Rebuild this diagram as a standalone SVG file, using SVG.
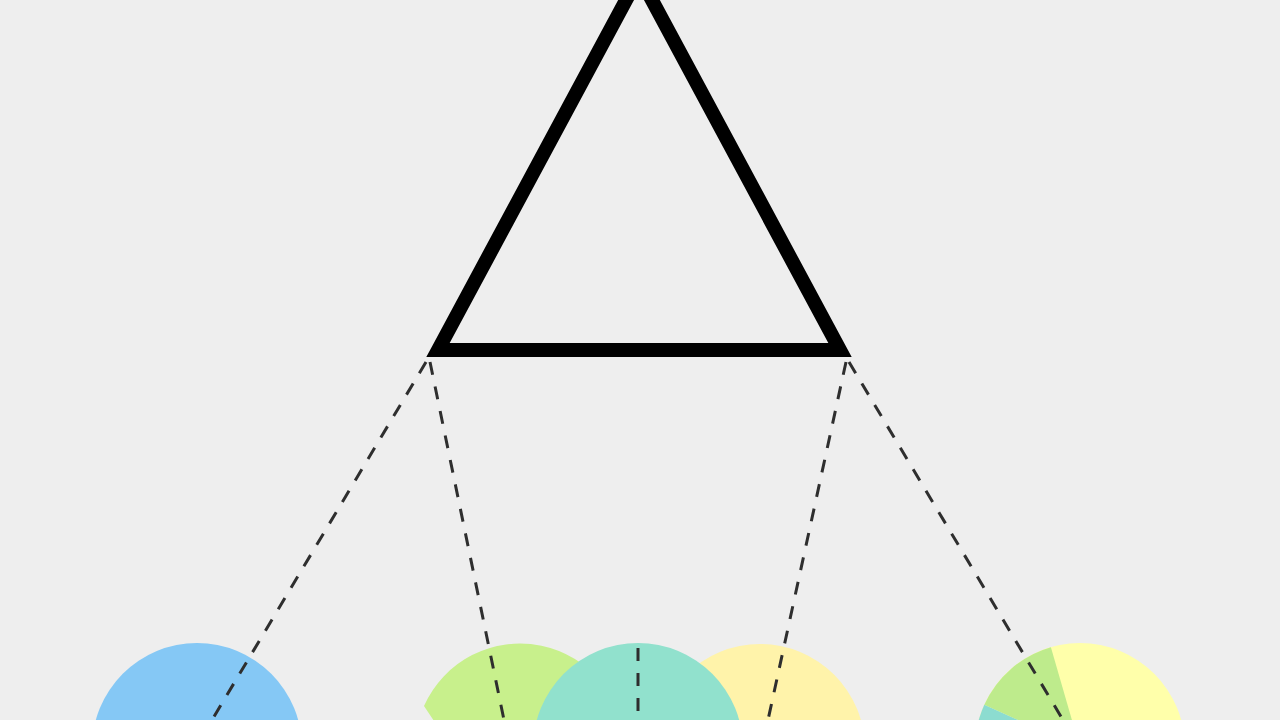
<svg xmlns="http://www.w3.org/2000/svg" width="1280" height="720" viewBox="0 0 1280 720">
  <style>
    .tri { fill: none; stroke: #000; stroke-width: 14; stroke-linejoin: miter; stroke-miterlimit: 10; }
    .dash { fill: none; stroke: #2e2e2e; stroke-width: 3; stroke-dasharray: 13 12; }
  </style>
  <rect width="1280" height="720" fill="#EEEEEE"/>
  <g id="triangle">
    <polygon class="tri" points="438,350 639,-24 840,350"/>
  </g>
  <g id="node-blue">
    <circle cx="197" cy="748" r="105" fill="#85C8F5"/>
  </g>
  <g id="node-green">
    <path d="M470 775 L424 706 A105 105 0 0 1 625 748 Z" fill="#C8F08C"/>
  </g>
  <g id="node-yellow">
    <circle cx="760" cy="749" r="105" fill="#FFF3AA"/>
  </g>
  <g id="node-teal">
    <circle cx="638" cy="748" r="105" fill="#91E1CD"/>
  </g>
  <g id="node-pie">
    <circle cx="1080" cy="748" r="105" fill="#FFFFAA"/>
    <path d="M1080 748 L984.3 704.7 A105 105 0 0 1 1050.9 647.2 Z" fill="#BEEB8C"/>
    <path d="M1080 748 L1080 853 A105 105 0 0 1 984.3 704.7 Z" fill="#8CDCD0"/>
  </g>
  <g id="connectors">
    <line class="dash" x1="426" y1="362" x2="212" y2="720"/>
    <line class="dash" x1="430" y1="362" x2="504" y2="720"/>
    <line class="dash" x1="638" y1="648" x2="638" y2="720"/>
    <line class="dash" x1="846" y1="362" x2="768" y2="720"/>
    <line class="dash" x1="849" y1="362" x2="1063" y2="720"/>
  </g>
</svg>
